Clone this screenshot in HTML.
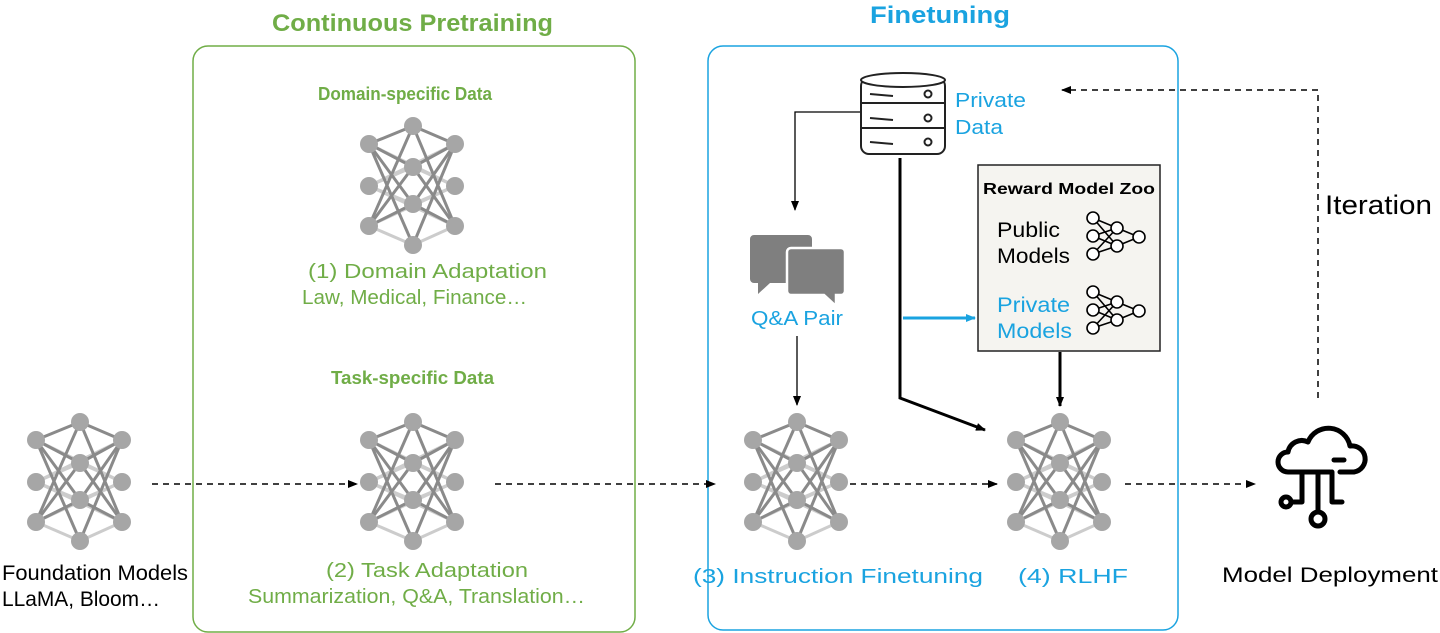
<!DOCTYPE html>
<html><head><meta charset="utf-8"><style>
body{margin:0;background:#fff;}
svg{display:block;font-family:"Liberation Sans",sans-serif;}
</style></head><body>
<svg width="1440" height="633" viewBox="0 0 1440 633" xmlns="http://www.w3.org/2000/svg">
<defs>
<marker id="ah" markerWidth="10" markerHeight="8" refX="9" refY="4" orient="auto" markerUnits="userSpaceOnUse"><path d="M0,0 L10,4 L0,8 z" fill="#000"/></marker>
<marker id="ahb" markerWidth="10" markerHeight="8" refX="9" refY="4" orient="auto" markerUnits="userSpaceOnUse"><path d="M0,0 L10,4 L0,8 z" fill="#1aa3e0"/></marker>
<g id="nn">
<g stroke="#ccc" stroke-width="3">
<line x1="-44" y1="0" x2="0" y2="-19"/><line x1="-44" y1="0" x2="0" y2="18"/><line x1="42" y1="0" x2="0" y2="-19"/><line x1="42" y1="0" x2="0" y2="18"/>
<line x1="-44" y1="-42" x2="42" y2="0"/><line x1="42" y1="-42" x2="-44" y2="0"/><line x1="-44" y1="40" x2="42" y2="0"/><line x1="42" y1="40" x2="-44" y2="0"/>
<line x1="0" y1="59" x2="42" y2="40"/><line x1="0" y1="59" x2="-44" y2="40"/>
</g>
<g stroke="#8a8a8a" stroke-width="3">
<line x1="0" y1="-60" x2="-44" y2="-42"/><line x1="0" y1="-60" x2="42" y2="-42"/><line x1="0" y1="-60" x2="-44" y2="40"/><line x1="0" y1="-60" x2="42" y2="40"/>
<line x1="0" y1="59" x2="-44" y2="-42"/><line x1="0" y1="59" x2="42" y2="-42"/>
<line x1="-44" y1="-42" x2="0" y2="-19"/><line x1="42" y1="-42" x2="0" y2="-19"/><line x1="-44" y1="40" x2="0" y2="18"/><line x1="42" y1="40" x2="0" y2="18"/>
<line x1="-44" y1="-42" x2="0" y2="18"/><line x1="42" y1="-42" x2="0" y2="18"/><line x1="-44" y1="40" x2="0" y2="-19"/><line x1="42" y1="40" x2="0" y2="-19"/>
</g>
<g fill="#a6a6a6">
<circle cx="0" cy="-60" r="9"/><circle cx="0" cy="-19" r="9"/><circle cx="0" cy="18" r="9"/><circle cx="0" cy="59" r="9"/>
<circle cx="-44" cy="-42" r="9"/><circle cx="-44" cy="0" r="9"/><circle cx="-44" cy="40" r="9"/>
<circle cx="42" cy="-42" r="9"/><circle cx="42" cy="0" r="9"/><circle cx="42" cy="40" r="9"/>
</g>
</g>
<g id="sn" fill="none" stroke="#000" stroke-width="1.6">
<line x1="0" y1="0" x2="24" y2="10"/><line x1="0" y1="0" x2="24" y2="28"/><line x1="0" y1="18" x2="24" y2="10"/><line x1="0" y1="18" x2="24" y2="28"/><line x1="0" y1="36" x2="24" y2="10"/><line x1="0" y1="36" x2="24" y2="28"/><line x1="24" y1="10" x2="46" y2="19"/><line x1="24" y1="28" x2="46" y2="19"/>
<g fill="#fff"><circle cx="0" cy="0" r="6"/><circle cx="0" cy="18" r="6"/><circle cx="0" cy="36" r="6"/><circle cx="24" cy="10" r="6"/><circle cx="24" cy="28" r="6"/><circle cx="46" cy="19" r="6"/></g>
</g>
</defs>

<rect x="193" y="46" width="442" height="586" rx="15" fill="none" stroke="#70ad47" stroke-width="1.5"/>
<rect x="708" y="46" width="470" height="584" rx="15" fill="none" stroke="#1aa3e0" stroke-width="1.5"/>
<text x="272" y="31" textLength="281" lengthAdjust="spacingAndGlyphs" font-size="24" font-weight="bold" fill="#70ad47">Continuous Pretraining</text>
<text x="870" y="23" textLength="140" lengthAdjust="spacingAndGlyphs" font-size="24" font-weight="bold" fill="#1aa3e0">Finetuning</text>

<use href="#nn" x="80" y="482"/>
<use href="#nn" x="413" y="482"/>
<use href="#nn" x="413" y="186"/>
<use href="#nn" x="797" y="482"/>
<use href="#nn" x="1060" y="482"/>

<g fill="#70ad47" font-size="20" lengthAdjust="spacingAndGlyphs">
<text x="318" y="100" font-size="18" font-weight="bold" textLength="174" lengthAdjust="spacingAndGlyphs">Domain-specific Data</text>
<text x="308" y="278" textLength="239" lengthAdjust="spacingAndGlyphs">(1)   Domain Adaptation</text>
<text x="302" y="304" textLength="225" lengthAdjust="spacingAndGlyphs">Law, Medical, Finance…</text>
<text x="331" y="384" font-size="18" font-weight="bold" textLength="163" lengthAdjust="spacingAndGlyphs">Task-specific Data</text>
<text x="326" y="577" textLength="202" lengthAdjust="spacingAndGlyphs">(2) Task Adaptation</text>
<text x="248" y="603" textLength="337" lengthAdjust="spacingAndGlyphs">Summarization, Q&amp;A, Translation…</text>
</g>
<g font-size="21" fill="#000">
<text x="2" y="580" textLength="186" lengthAdjust="spacingAndGlyphs">Foundation Models</text>
<text x="2" y="606" textLength="158" lengthAdjust="spacingAndGlyphs">LLaMA, Bloom…</text>
<text x="1222" y="582" textLength="216" lengthAdjust="spacingAndGlyphs">Model Deployment</text>
<text x="1325" y="214" font-size="27" textLength="107" lengthAdjust="spacingAndGlyphs">Iteration</text>
</g>
<g fill="#1aa3e0" font-size="20">
<text x="693" y="583" textLength="290" lengthAdjust="spacingAndGlyphs">(3) Instruction Finetuning</text>
<text x="1018" y="583" textLength="110" lengthAdjust="spacingAndGlyphs">(4) RLHF</text>
<text x="751" y="325" textLength="92" lengthAdjust="spacingAndGlyphs">Q&amp;A Pair</text>
<text x="955" y="107" textLength="71" lengthAdjust="spacingAndGlyphs">Private</text>
<text x="955" y="134" textLength="48" lengthAdjust="spacingAndGlyphs">Data</text>
</g>

<g fill="#fff" stroke="#222" stroke-width="2">
<rect x="861" y="78" width="84" height="76" rx="8"/>
<ellipse cx="903" cy="80" rx="42" ry="7"/>
<line x1="861" y1="103" x2="945" y2="103"/><line x1="861" y1="128" x2="945" y2="128"/>
<line x1="870" y1="94" x2="893" y2="96"/><line x1="870" y1="118" x2="893" y2="120"/><line x1="870" y1="142" x2="893" y2="144"/>
<circle cx="928" cy="94" r="3.5"/><circle cx="928" cy="118" r="3.5"/><circle cx="928" cy="142" r="3.5"/>
</g>

<path d="M754,235 h54 a4,4 0 0 1 4,4 v40 a4,4 0 0 1 -4,4 h-38 l-12,11 v-11 h-4 a4,4 0 0 1 -4,-4 v-40 a4,4 0 0 1 4,-4z" fill="#7f7f7f"/>
<path d="M791,248 h50 a4,4 0 0 1 4,4 v39 a4,4 0 0 1 -4,4 h-5 v11 l-12,-11 h-33 a4,4 0 0 1 -4,-4 v-39 a4,4 0 0 1 4,-4z" fill="#7f7f7f" stroke="#fff" stroke-width="2.5"/>

<rect x="978" y="165" width="182" height="186" fill="#f5f4f0" stroke="#222" stroke-width="1.5"/>
<text x="983" y="194" font-size="16" font-weight="bold" textLength="172" lengthAdjust="spacingAndGlyphs">Reward Model Zoo</text>
<text x="997" y="237" font-size="21" textLength="63" lengthAdjust="spacingAndGlyphs">Public</text>
<text x="997" y="263" font-size="21" textLength="73" lengthAdjust="spacingAndGlyphs">Models</text>
<text x="997" y="312" font-size="21" fill="#1aa3e0" textLength="73" lengthAdjust="spacingAndGlyphs">Private</text>
<text x="997" y="338" font-size="21" fill="#1aa3e0" textLength="75" lengthAdjust="spacingAndGlyphs">Models</text>
<use href="#sn" x="1093" y="218"/>
<use href="#sn" x="1093" y="292"/>

<g fill="none" stroke="#000" stroke-width="5" stroke-linecap="round" stroke-linejoin="round">
<path d="M1296,472 h-8 a10,10 0 0 1 0,-20 a14,14 0 0 1 20,-10 a22,22 0 0 1 42,4 a13,13 0 0 1 4,26 h-14"/>
<line x1="1296" y1="472" x2="1330" y2="472"/>
<path d="M1302,472 v30 h-10"/><circle cx="1286" cy="502" r="5"/>
<path d="M1318,472 v40"/><circle cx="1318" cy="519" r="7"/>
<path d="M1334,460 h10"/><path d="M1332,472 v30 h10"/>
</g>

<g fill="none" stroke="#000" stroke-width="1.5" stroke-dasharray="6,5">
<line x1="152" y1="484" x2="357" y2="484" marker-end="url(#ah)"/>
<line x1="495" y1="484" x2="715" y2="484" marker-end="url(#ah)"/>
<line x1="850" y1="484" x2="997" y2="484" marker-end="url(#ah)"/>
<line x1="1125" y1="484" x2="1255" y2="484" marker-end="url(#ah)"/>
<path d="M1318,398 V90 H1062" marker-end="url(#ah)"/>
</g>
<g fill="none" stroke="#000">
<path d="M860,112 H795 V210" stroke-width="1.3" marker-end="url(#ah)"/>
<line x1="797" y1="336" x2="797" y2="405" stroke-width="1.3" marker-end="url(#ah)"/>
<path d="M900,158 V398 L985,430" stroke-width="3" marker-end="url(#ah)"/>
<line x1="1060" y1="352" x2="1060" y2="406" stroke-width="3" marker-end="url(#ah)"/>
</g>
<line x1="903" y1="318" x2="975" y2="318" stroke="#1aa3e0" stroke-width="3" marker-end="url(#ahb)"/>
</svg>
</body></html>
